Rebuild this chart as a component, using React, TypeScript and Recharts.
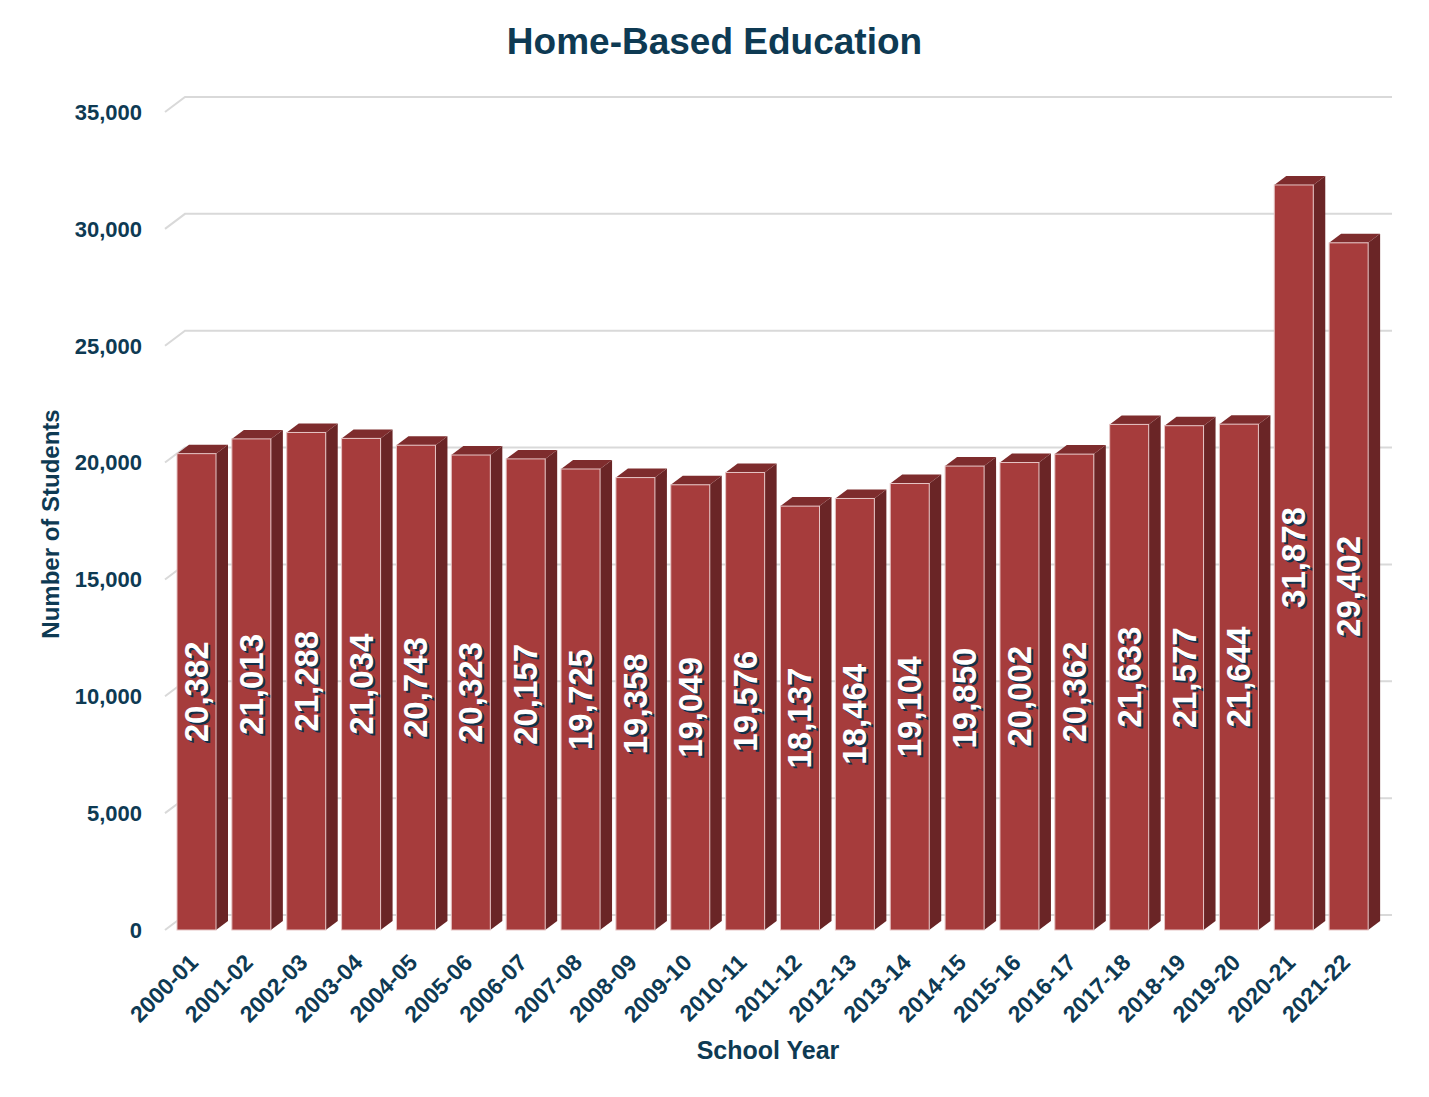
import { Bar, BarChart, CartesianGrid, LabelList, XAxis, YAxis } from "recharts";

const years = [
  "2000-01", "2001-02", "2002-03", "2003-04", "2004-05", "2005-06",
  "2006-07", "2007-08", "2008-09", "2009-10", "2010-11", "2011-12",
  "2012-13", "2013-14", "2014-15", "2015-16", "2016-17", "2017-18",
  "2018-19", "2019-20", "2020-21", "2021-22",
];

const students = [
  20382, 21013, 21288, 21034, 20743, 20323, 20157, 19725, 19358, 19049,
  19576, 18137, 18464, 19104, 19850, 20002, 20362, 21633, 21577, 21644,
  31878, 29402,
];

const yTicks = [0, 5000, 10000, 15000, 20000, 25000, 30000, 35000];

const data = years.map((year, i) => ({ year, students: students[i] }));

const NAVY = "#0e3a53";
const FONT = "'Liberation Sans', Arial, sans-serif";

// 3d depth of the walls and of the bars
const WALL_DX = 20;
const WALL_DY = 15;
const BAR_DX = 12;
const BAR_DY = 9;

function GridLine(props: any) {
  const { x1, x2, y1 } = props;
  const fx = x1 - 4;
  return (
    <path
      key={props.key}
      d={`M${fx},${y1} L${fx + WALL_DX},${y1 - WALL_DY} L${x2 + WALL_DX - 4},${y1 - WALL_DY}`}
      fill="none"
      stroke="#d9d9d9"
      strokeWidth={2}
    />
  );
}

function Bar3D(props: any) {
  const { x, y, width, height } = props;
  if (!height) return null;
  const r = x + width;
  const b = y + height;
  return (
    <g>
      <polygon
        points={`${r},${y} ${r + BAR_DX},${y - BAR_DY} ${r + BAR_DX},${b - BAR_DY} ${r},${b}`}
        fill="#6a2526"
      />
      <polygon
        points={`${x},${y} ${x + BAR_DX},${y - BAR_DY} ${r + BAR_DX},${y - BAR_DY} ${r},${y}`}
        fill="#7e2c2d"
      />
      <rect x={x} y={y} width={width} height={height} fill="#a63c3c" stroke="#e6c4c4" strokeWidth={1} />
    </g>
  );
}

function ValueLabel(props: any) {
  const { x, y, width, height, value } = props;
  const cx = x + width / 2;
  const cy = y + height / 2;
  const text = Number(value).toLocaleString("en-US");
  const common = {
    textAnchor: "middle" as const,
    dominantBaseline: "central" as const,
    fontSize: 33,
    fontWeight: 700,
    fontFamily: FONT,
  };
  return (
    <g>
      <text {...common} x={cx + 2} y={cy + 2} fill="#10304a" transform={`rotate(-90, ${cx + 2}, ${cy + 2})`}>
        {text}
      </text>
      <text {...common} x={cx} y={cy} fill="#ffffff" transform={`rotate(-90, ${cx}, ${cy})`}>
        {text}
      </text>
    </g>
  );
}

function YearTick(props: any) {
  const { x, y, payload } = props;
  return (
    <text
      transform={`translate(${x + 3},${y + 34}) rotate(-45)`}
      textAnchor="end"
      fontSize={23}
      fontWeight={700}
      fontFamily={FONT}
      fill={NAVY}
    >
      {payload.value}
    </text>
  );
}

export default function App() {
  return (
    <div
      style={{
        position: "relative",
        width: 1429,
        height: 1097,
        marginTop: -8,
        marginLeft: -8,
        background: "#ffffff",
        fontFamily: FONT,
      }}
    >
      <div
        style={{
          position: "absolute",
          top: 21,
          left: 0,
          width: 1429,
          textAlign: "center",
          fontSize: 37,
          fontWeight: 700,
          color: NAVY,
        }}
      >
        Home-Based Education
      </div>

      <BarChart
        width={1429}
        height={1097}
        data={data}
        margin={{ top: 112, right: 53, left: 0, bottom: 67 }}
        barSize={39}
      >
        <CartesianGrid vertical={false} horizontal={GridLine} />
        <XAxis
          dataKey="year"
          axisLine={false}
          tickLine={false}
          tickSize={0}
          tickMargin={0}
          interval={0}
          height={100}
          tick={<YearTick />}
        />
        <YAxis
          width={169}
          domain={[0, 35000]}
          ticks={yTicks}
          axisLine={false}
          tickLine={false}
          tickSize={0}
          tickMargin={27}
          tickFormatter={(v: number) => v.toLocaleString("en-US")}
          tick={{ fontSize: 22, fontWeight: 700, fill: NAVY, fontFamily: FONT }}
        />
        <Bar dataKey="students" shape={<Bar3D />} isAnimationActive={false}>
          <LabelList dataKey="students" content={<ValueLabel />} />
        </Bar>
      </BarChart>

      <div
        style={{
          position: "absolute",
          left: 51,
          top: 524,
          transform: "translate(-50%, -50%) rotate(-90deg)",
          whiteSpace: "nowrap",
          fontSize: 24,
          fontWeight: 700,
          color: NAVY,
        }}
      >
        Number of Students
      </div>

      <div
        style={{
          position: "absolute",
          left: 768,
          top: 1050,
          transform: "translate(-50%, -50%)",
          whiteSpace: "nowrap",
          fontSize: 25,
          fontWeight: 700,
          color: NAVY,
        }}
      >
        School Year
      </div>
    </div>
  );
}
